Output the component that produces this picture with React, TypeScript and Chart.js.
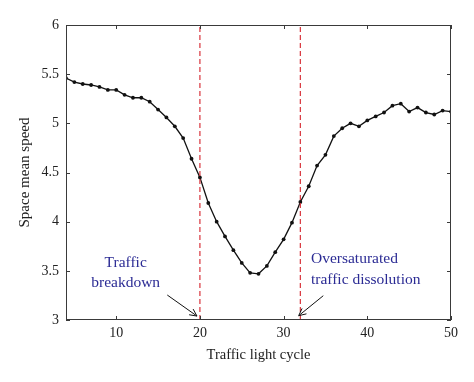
import React, { useEffect, useRef } from "react";
import { Chart, registerables } from "chart.js";

Chart.register(...registerables);

const cycles = [4, 5, 6, 7, 8, 9, 10, 11, 12, 13, 14, 15, 16, 17, 18, 19, 20, 21, 22, 23, 24, 25, 26, 27, 28, 29, 30, 31, 32, 33, 34, 35, 36, 37, 38, 39, 40, 41, 42, 43, 44, 45, 46, 47, 48, 49, 50];
const speed = [5.46, 5.42, 5.4, 5.39, 5.37, 5.34, 5.34, 5.29, 5.26, 5.26, 5.22, 5.14, 5.06, 4.97, 4.85, 4.64, 4.45, 4.19, 4.0, 3.85, 3.71, 3.58, 3.48, 3.47, 3.55, 3.69, 3.82, 3.99, 4.2, 4.36, 4.57, 4.68, 4.87, 4.95, 5.0, 4.97, 5.03, 5.07, 5.11, 5.18, 5.2, 5.12, 5.16, 5.11, 5.09, 5.13, 5.12];
const xTicks = [10, 20, 30, 40, 50];
const yTicks = [3, 3.5, 4, 4.5, 5, 5.5, 6];
const markerCycles = [20, 32];
const xRange = [4, 50];
const yRange = [3, 6];

const annotationTexts = [
  { lines: ["Traffic", "breakdown"], x: 11.13, ys: [3.542, 3.333], align: "center" as CanvasTextAlign },
  { lines: ["Oversaturated", "traffic dissolution"], x: 33.27, ys: [3.577, 3.366], align: "left" as CanvasTextAlign },
];
const arrows = [
  { from: [16.1, 3.254], to: [19.65, 3.04] },
  { from: [34.74, 3.247], to: [31.8, 3.044] },
];

const FONT = '"Liberation Serif", "DejaVu Serif", serif';

export default function App() {
  const ref = useRef<HTMLCanvasElement | null>(null);
  useEffect(() => {
    document.body.style.margin = "0";
    const canvas = ref.current;
    if (!canvas) return;

    const framePlugin = {
      id: "frame",
      afterDraw(chart: any) {
        const ctx = chart.ctx as CanvasRenderingContext2D;
        const { left, right, top, bottom } = chart.chartArea;
        const xs = chart.scales.x;
        const ys = chart.scales.y;
        ctx.save();
        ctx.strokeStyle = "#3a3a3a";
        ctx.lineWidth = 1;
        ctx.strokeRect(left + 0.5, top + 0.5, right - left - 1, bottom - top - 1);
        ctx.beginPath();
        xTicks.forEach((v) => {
          const px = Math.round(xs.getPixelForValue(v)) + 0.5;
          ctx.moveTo(px, bottom);
          ctx.lineTo(px, bottom - 4);
          ctx.moveTo(px, top);
          ctx.lineTo(px, top + 4);
        });
        yTicks.forEach((v) => {
          const py = Math.round(ys.getPixelForValue(v)) + 0.5;
          ctx.moveTo(left, py);
          ctx.lineTo(left + 4, py);
          ctx.moveTo(right, py);
          ctx.lineTo(right - 4, py);
        });
        ctx.stroke();

        // annotations
        ctx.fillStyle = "#2b2b94";
        ctx.font = `15.5px ${FONT}`;
        ctx.textBaseline = "alphabetic";
        annotationTexts.forEach((a) => {
          ctx.textAlign = a.align;
          a.lines.forEach((t, i) => {
            ctx.fillText(t, xs.getPixelForValue(a.x), ys.getPixelForValue(a.ys[i]));
          });
        });
        ctx.strokeStyle = "#111";
        ctx.lineWidth = 1;
        arrows.forEach((ar) => {
          const x1 = xs.getPixelForValue(ar.from[0]);
          const y1 = ys.getPixelForValue(ar.from[1]);
          const x2 = xs.getPixelForValue(ar.to[0]);
          const y2 = ys.getPixelForValue(ar.to[1]);
          const ang = Math.atan2(y2 - y1, x2 - x1);
          const h = 8;
          ctx.beginPath();
          ctx.moveTo(x1, y1);
          ctx.lineTo(x2, y2);
          ctx.moveTo(x2 - h * Math.cos(ang - 0.45), y2 - h * Math.sin(ang - 0.45));
          ctx.lineTo(x2, y2);
          ctx.lineTo(x2 - h * Math.cos(ang + 0.45), y2 - h * Math.sin(ang + 0.45));
          ctx.stroke();
        });
        ctx.restore();
      },
    };

    const chart = new Chart(canvas, {
      type: "line",
      data: {
        datasets: [
          ...markerCycles.map((c) => ({
            data: [
              { x: c, y: yRange[0] },
              { x: c, y: yRange[1] },
            ],
            borderColor: "#d8343c",
            borderWidth: 1.2,
            borderDash: [5, 3],
            pointRadius: 0,
            fill: false,
          })),
          {
            data: cycles.map((c, i) => ({ x: c, y: speed[i] })),
            borderColor: "#111",
            borderWidth: 1.3,
            pointRadius: 1.9,
            pointBackgroundColor: "#111",
            pointBorderWidth: 0,
            tension: 0,
            fill: false,
          },
        ],
      },
      options: {
        animation: false,
        responsive: false,
        events: [],
        layout: { padding: { left: 0, right: 23, top: 25, bottom: 0 } },
        plugins: { legend: { display: false }, tooltip: { enabled: false } },
        scales: {
          x: {
            type: "linear",
            min: xRange[0],
            max: xRange[1],
            afterBuildTicks: (s: any) => {
              s.ticks = xTicks.map((v) => ({ value: v }));
            },
            afterFit: (s: any) => {
              s.height = 62;
            },
            grid: { display: false, drawTicks: false, tickLength: 0 },
            border: { display: false },
            ticks: {
              padding: 5,
              color: "#222",
              font: { family: FONT, size: 14 },
              maxRotation: 0,
              callback: (v: any) => String(v),
            },
            title: {
              display: true,
              text: "Traffic light cycle",
              color: "#222",
              font: { family: FONT, size: 14.5 },
              padding: { top: 0, bottom: 18.6 },
            },
          },
          y: {
            type: "linear",
            min: yRange[0],
            max: yRange[1],
            afterBuildTicks: (s: any) => {
              s.ticks = yTicks.map((v) => ({ value: v }));
            },
            afterFit: (s: any) => {
              s.width = 66;
            },
            grid: { display: false, drawTicks: false, tickLength: 0 },
            border: { display: false },
            ticks: {
              padding: 7,
              color: "#222",
              font: { family: FONT, size: 14 },
              callback: (v: any) => String(v),
            },
            title: {
              display: true,
              text: "Space mean speed",
              color: "#222",
              font: { family: FONT, size: 15 },
              padding: { top: 16, bottom: 0 },
            },
          },
        },
      },
      plugins: [framePlugin],
    });
    return () => chart.destroy();
  }, []);
  return <canvas ref={ref} width={474} height={382} style={{ display: "block", width: 474, height: 382 }} />;
}
